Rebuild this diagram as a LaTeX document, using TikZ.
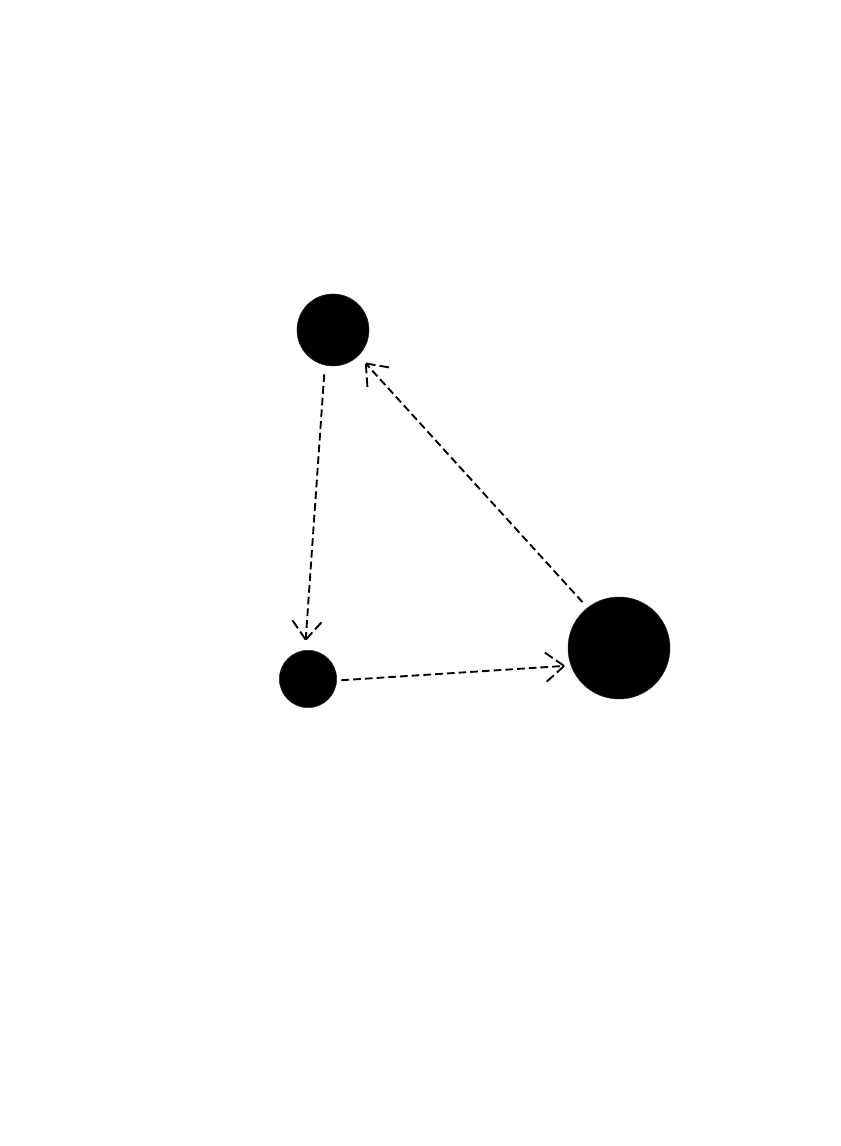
\documentclass[tikz,border=0pt]{standalone}
\usetikzlibrary{calc}
\tikzset{
  dot/.style={circle,fill=black,draw=black!85,line width=0.4pt,inner sep=0pt},
  conn/.style={line width=1.4pt,dash pattern=on 5.8pt off 3pt,line cap=butt},
  barb/.style={line width=1.4pt,dash pattern=on 7.2pt off 3pt,line cap=butt},
}
\newcommand{\barbarrow}[2]{%
  \draw[conn] (#1) -- (#2);
  \draw[barb] ($(#2)!13.8pt!(#1)!10.9pt!90:(#2)$) -- (#2);
  \draw[barb] ($(#2)!13.8pt!(#1)!10.9pt!-90:(#2)$) -- (#2);
}
\begin{document}
\begin{tikzpicture}[x=0.75pt,y=0.75pt]
\useasboundingbox (0,0) rectangle (840,1146);
\node[dot,minimum size=54pt] (t) at (333,816) {};
\node[dot,minimum size=43pt] (b) at (308,467) {};
\node[dot,minimum size=76.5pt] (r) at (619,498) {};
\path ($(t.257)!6.75pt!(b.96)$) coordinate (s1)
      ($(b.96)!7.9pt!(t.257)$) coordinate (e1)
      ($(b.-3.5)!3.4pt!(r.200)$) coordinate (s2)
      ($(r.200)!5pt!(b.-3.5)$) coordinate (e2)
      ($(r.128)!5.5pt!(t.-45)$) coordinate (s3)
      ($(t.-45)!8pt!(r.128)$) coordinate (e3);
\barbarrow{s1}{e1}
\barbarrow{s2}{e2}
\barbarrow{s3}{e3}
\end{tikzpicture}
\end{document}
